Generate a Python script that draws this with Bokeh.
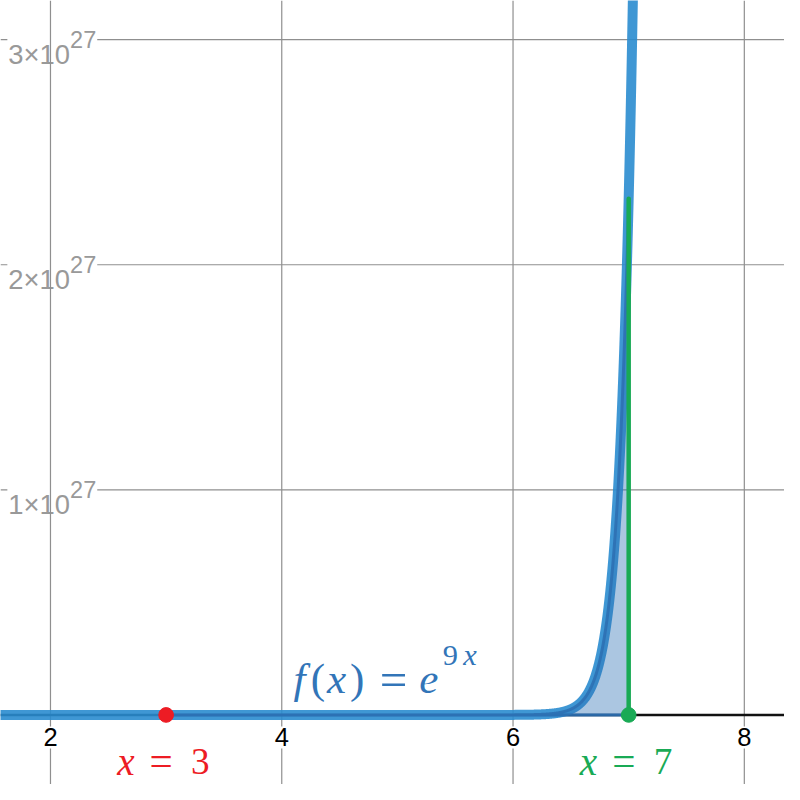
import numpy as np
from bokeh.plotting import figure
from bokeh.models import Range1d
from bokeh.core.properties import value
from bokeh.embed import file_html
from bokeh.resources import INLINE

# ---- data -------------------------------------------------------------
k = 9.0            # f(x) = e^(k x)
a_bound = 3.0      # red marker  x = 3
b_bound = 7.0      # green marker x = 7
x_ticks = [2, 4, 6, 8]
x_tick_labels = ["2", "4", "6", "8"]
y_ticks = [1e27, 2e27, 3e27]
y_tick_mantissa = ["1×10", "2×10", "3×10"]
y_tick_exponent = ["27", "27", "27"]

X_START, X_END = 1.5678, 8.3475
Y_START, Y_END = -0.309e27, 3.174e27

S = 784 / 800.0  # scale from reference pixels

BLUE_CURVE = "#2a8ccf"
BLUE_DARK = "#2d70b3"
RED = "#ed1c24"
GREEN = "#19aa55"
GRID = "#8f8f8f"

p = figure(width=784, height=784, output_backend="svg", toolbar_location=None,
           x_range=Range1d(X_START, X_END), y_range=Range1d(Y_START, Y_END),
           min_border=0)
p.xaxis.visible = False
p.yaxis.visible = False
p.xgrid.visible = False
p.ygrid.visible = False
p.outline_line_color = None
p.background_fill_color = "white"

# horizontal grid lines
p.segment(x0=[X_START] * len(y_ticks), y0=y_ticks, x1=[X_END] * len(y_ticks), y1=y_ticks,
          line_color=GRID, line_width=1.2)

# y tick labels (mantissa + superscript exponent)
p.text(x=[X_START] * len(y_ticks), y=y_ticks, text=y_tick_mantissa,
       x_offset=7 * S, y_offset=15 * S, text_align="left", text_baseline="alphabetic",
       text_font=value("Liberation Sans"), text_font_size=f"{28 * S:.1f}px",
       text_color="#999999", background_fill_color="white", padding=1)
p.text(x=[X_START] * len(y_ticks), y=y_ticks, text=y_tick_exponent,
       x_offset=70 * S, y_offset=0, text_align="left", text_baseline="alphabetic",
       text_font=value("Liberation Sans"), text_font_size=f"{24 * S:.1f}px",
       text_color="#999999", background_fill_color="white", padding=1)

# vertical grid lines
p.segment(x0=x_ticks, y0=[Y_START] * len(x_ticks), x1=x_ticks, y1=[Y_END] * len(x_ticks),
          line_color=GRID, line_width=1.2)

# x tick labels
p.text(x=x_ticks, y=[0] * len(x_ticks), text=x_tick_labels,
       x_offset=0, y_offset=23 * S, text_align="center", text_baseline="middle",
       text_font=value("Liberation Sans"), text_font_size=f"{26 * S:.1f}px",
       text_color="#000000", background_fill_color="white", padding=2)

# x axis
p.segment(x0=[X_START], y0=[0], x1=[X_END], y1=[0], line_color="#111111", line_width=2.5)

# curve f(x) = e^(kx)
xs = np.linspace(X_START - 0.05, 7.1, 4000)
p.line(xs, np.exp(k * xs), line_color=BLUE_CURVE, line_width=10, line_alpha=0.9,
       line_join="round")

# shaded region between x = a and x = b
xf = np.linspace(a_bound, b_bound, 2000)
yf = np.exp(k * xf)
px = np.concatenate([xf, [b_bound, a_bound]])
py = np.concatenate([yf, [0.0, 0.0]])
p.patch(px, py, fill_color=BLUE_DARK, fill_alpha=0.4, line_color=BLUE_DARK,
        line_width=3, line_alpha=0.9, line_join="round")

# green vertical line x = b
p.segment(x0=[b_bound], y0=[0], x1=[b_bound], y1=[float(np.exp(k * b_bound))],
          line_color=GREEN, line_width=4.5, line_cap="round")

# points
p.scatter(x=[a_bound], y=[0], size=15 * S, fill_color=RED, line_color=RED)
p.scatter(x=[b_bound], y=[0], size=15 * S, fill_color=GREEN, line_color=GREEN)


def math_label(x, y, pieces, color):
    # pieces: (text, dx, dy, size, italic)
    for txt, dx, dy, size, italic in pieces:
        p.text(x=[x], y=[y], text=[txt], x_offset=dx * S, y_offset=dy * S,
               text_align="center", text_baseline="alphabetic",
               text_font=value("Liberation Serif"),
               text_font_style="italic" if italic else "normal",
               text_font_size=f"{size * S:.1f}px", text_color=color)


for bound, col in ((a_bound, RED), (b_bound, GREEN)):
    math_label(bound, 0, [("x", -41, 48, 40, True), ("=", -5, 47, 42, False),
                          (str(int(bound)), 35, 48, 38, False)], col)

mid = (a_bound + b_bound) / 2
math_label(mid, 0, [("f", -100, -37, 44, True), ("(", -81, -37, 44, False),
                    ("x", -62, -37, 44, True), (")", -41, -37, 44, False),
                    ("=", -4, -36, 50, False), ("e", 32, -37, 44, True),
                    (str(int(k)), 54, -61, 31, False), ("x", 74, -61, 31, True)],
           "#3275b8")

open("out.html", "w").write(file_html(p, INLINE))
